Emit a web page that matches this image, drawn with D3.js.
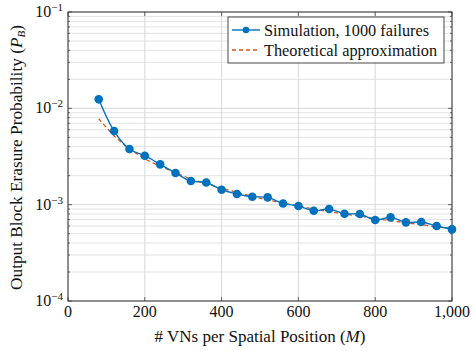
<!DOCTYPE html>
<html><head><meta charset="utf-8">
<script src="https://cdn.jsdelivr.net/npm/d3@7"></script>
<style>
body{margin:0;background:#fff;}
text{font-family:"Liberation Serif","Times New Roman",serif;fill:#111;}
</style></head>
<body><svg id="c" width="474" height="351"></svg>
<script>
const M = [80,120,160,200,240,280,320,360,400,440,480,520,560,600,640,680,720,760,800,840,880,920,960,1000];
const simPB = [0.0124,0.00581,0.00378,0.00322,0.00262,0.00213,0.00176,0.0017,0.00143,0.00129,0.00121,0.00119,0.00103,0.000967,0.000865,0.0009,0.000805,0.000799,0.000692,0.000738,0.000655,0.00066,0.0006,0.000554];
const theoPB = [0.0078,0.0052,0.0038,0.0030,0.0025,0.00215,0.00185,0.00165,0.00148,0.00134,0.00122,0.00112,0.00104,0.00097,0.0009,0.00085,0.0008,0.00076,0.00072,0.00068,0.00065,0.00062,0.00059,0.00057];
const xTicks = [0,200,400,600,800,1000];
const xTickLabels = ["0","200","400","600","800","1,000"];
const yDecades = [-4,-3,-2,-1];
const legendLabels = ["Simulation, 1000 failures","Theoretical approximation"];

const blue = "#0072BD", orange = "#D95319";
const L=68,R=452,T=12,B=301;
const svg = d3.select("#c");
const x = d3.scaleLinear().domain([0,1000]).range([L,R]);
const y = d3.scaleLog().domain([1e-4,1e-1]).range([B,T]);

// grid
const minorVals=[];
for(let d=-4; d<-1; d++) for(let k=2;k<=9;k++) minorVals.push(k*Math.pow(10,d));
const g = svg.append("g");
g.selectAll(".hm").data(minorVals).join("line").attr("x1",L).attr("x2",R)
 .attr("y1",d=>y(d)).attr("y2",d=>y(d)).attr("stroke","#e3e3e3").attr("stroke-width",1);
g.selectAll(".hM").data(yDecades.map(d=>Math.pow(10,d))).join("line").attr("x1",L).attr("x2",R)
 .attr("y1",d=>y(d)).attr("y2",d=>y(d)).attr("stroke","#d8d8d8").attr("stroke-width",1);
g.selectAll(".vM").data(xTicks).join("line").attr("y1",T).attr("y2",B)
 .attr("x1",d=>x(d)).attr("x2",d=>x(d)).attr("stroke","#d8d8d8").attr("stroke-width",1);

// ticks inside on all sides
const tk = svg.append("g").attr("stroke","#444").attr("stroke-width",0.8);
xTicks.forEach(v=>{
  tk.append("line").attr("x1",x(v)).attr("x2",x(v)).attr("y1",B).attr("y2",B-4);
  tk.append("line").attr("x1",x(v)).attr("x2",x(v)).attr("y1",T).attr("y2",T+4);
});
yDecades.forEach(d=>{
  const v=Math.pow(10,d);
  tk.append("line").attr("x1",L).attr("x2",L+4).attr("y1",y(v)).attr("y2",y(v));
  tk.append("line").attr("x1",R).attr("x2",R-4).attr("y1",y(v)).attr("y2",y(v));
});
minorVals.forEach(v=>{
  tk.append("line").attr("x1",L).attr("x2",L+2).attr("y1",y(v)).attr("y2",y(v));
  tk.append("line").attr("x1",R).attr("x2",R-2).attr("y1",y(v)).attr("y2",y(v));
});

// frame
svg.append("rect").attr("x",L).attr("y",T).attr("width",R-L).attr("height",B-T)
 .attr("fill","none").attr("stroke","#333").attr("stroke-width",1);

// x tick labels
svg.selectAll(".xl").data(xTicks).join("text").attr("x",d=>x(d)).attr("y",B+16)
 .attr("text-anchor","middle").attr("font-size",16).text((d,i)=>xTickLabels[i]);
// y tick labels
yDecades.forEach(d=>{
  const t = svg.append("text").attr("x",L-5).attr("y",y(Math.pow(10,d))+5).attr("text-anchor","end").attr("font-size",16);
  t.append("tspan").text("10");
  t.append("tspan").attr("dy",-6).attr("font-size",11).text("\u2212"+Math.abs(d));
});

// data lines
const lineGen = d3.line().x((d,i)=>x(M[i])).y(d=>y(d)).curve(d3.curveCatmullRom.alpha(0.5));
svg.append("path").datum(theoPB).attr("d",lineGen).attr("fill","none")
 .attr("stroke",orange).attr("stroke-width",1.3).attr("stroke-dasharray","4,3");
svg.append("path").datum(simPB).attr("d",lineGen).attr("fill","none")
 .attr("stroke",blue).attr("stroke-width",1.4);
svg.selectAll(".pt").data(simPB).join("circle").attr("cx",(d,i)=>x(M[i])).attr("cy",d=>y(d))
 .attr("r",4.3).attr("fill",blue);

// legend
const lg = svg.append("g");
lg.append("rect").attr("x",228).attr("y",17).attr("width",216).attr("height",46)
 .attr("fill","#fff").attr("stroke","#333").attr("stroke-width",0.9);
lg.append("line").attr("x1",232).attr("x2",260).attr("y1",30).attr("y2",30).attr("stroke",blue).attr("stroke-width",1.4);
lg.append("circle").attr("cx",246).attr("cy",30).attr("r",3.3).attr("fill",blue);
lg.append("line").attr("x1",232).attr("x2",260).attr("y1",50).attr("y2",50).attr("stroke",orange).attr("stroke-width",1.3).attr("stroke-dasharray","4,3");
lg.append("text").attr("x",264).attr("y",35.5).attr("font-size",16.3).text(legendLabels[0]);
lg.append("text").attr("x",264).attr("y",55.5).attr("font-size",16.3).text(legendLabels[1]);

// axis labels
const xl = svg.append("text").attr("x",(L+R)/2).attr("y",342).attr("text-anchor","middle").attr("font-size",17);
xl.append("tspan").text("# VNs per Spatial Position (");
xl.append("tspan").attr("font-style","italic").text("M");
xl.append("tspan").text(")");
const yl = svg.append("text").attr("transform",`translate(22,${(T+B)/2+1}) rotate(-90)`).attr("text-anchor","middle").attr("font-size",17.3);
yl.append("tspan").text("Output Block Erasure Probability (");
yl.append("tspan").attr("font-style","italic").text("P");
yl.append("tspan").attr("font-style","italic").attr("font-size",11).attr("dy",3).text("B");
yl.append("tspan").attr("dy",-3).text(")");
</script></body></html>
